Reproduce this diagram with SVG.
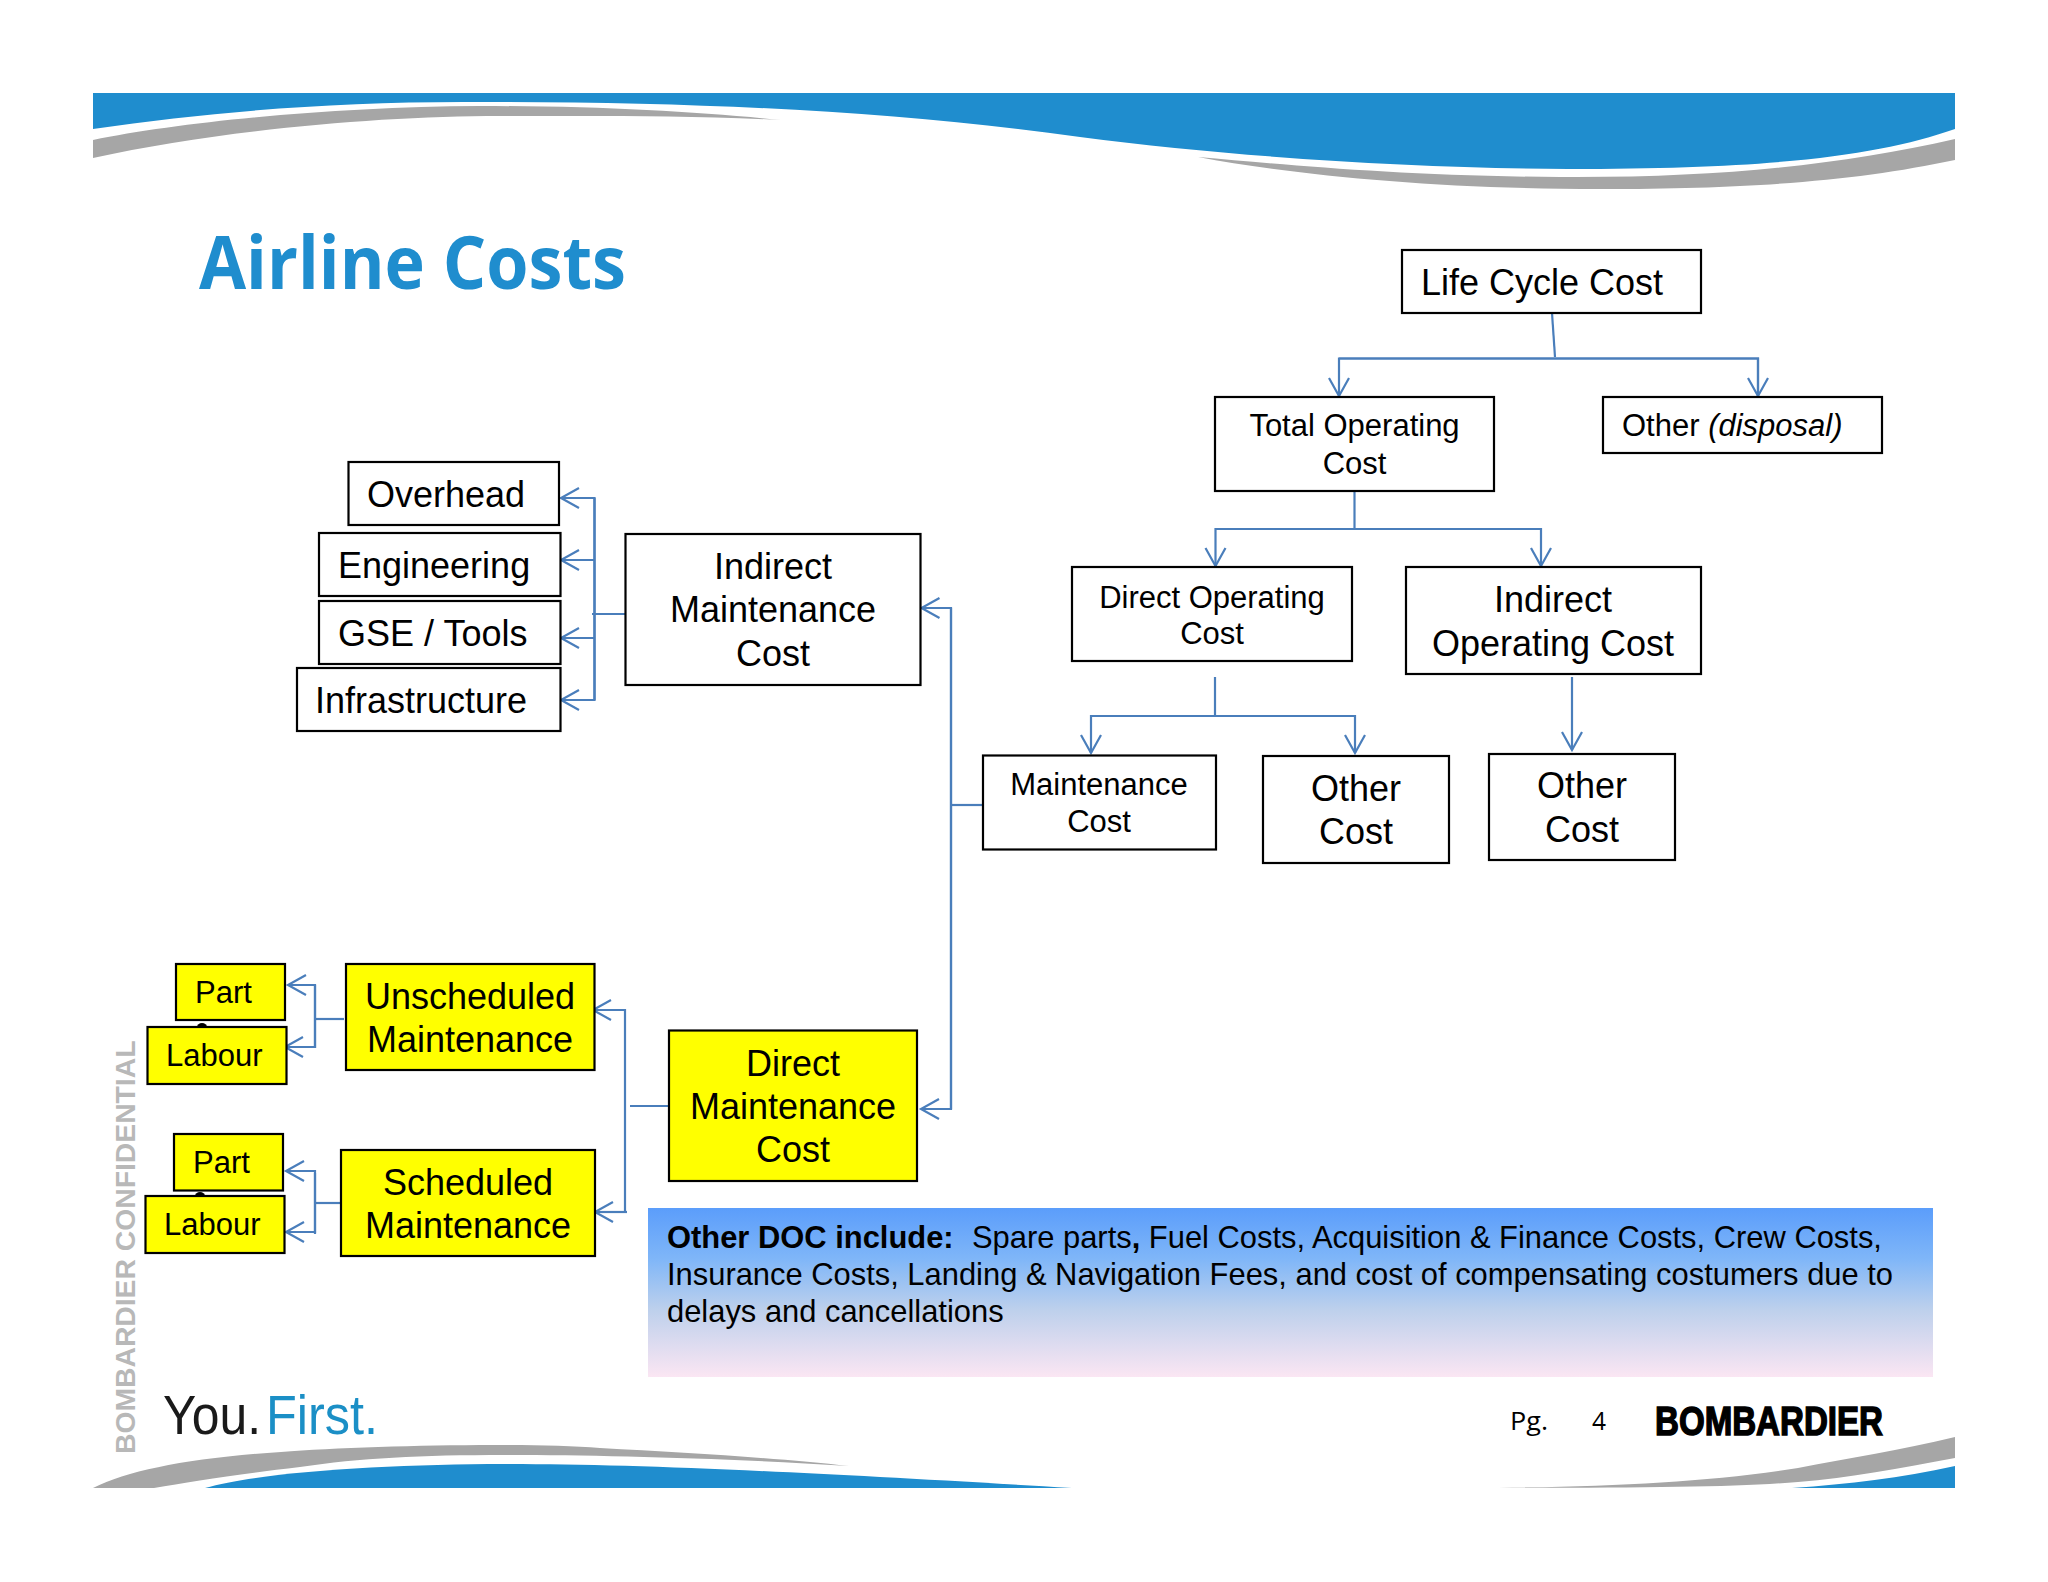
<svg xmlns="http://www.w3.org/2000/svg" width="2048" height="1582" viewBox="0 0 2048 1582">
<style>
text{font-family:"Liberation Sans",Arial,sans-serif;fill:#000}
.b{fill:#fff;stroke:#000;stroke-width:2.2}
.y{fill:#ff0;stroke:#000;stroke-width:2.2}
.t36{font-size:36px}.t31{font-size:31px}.t30{font-size:31px}
.m{text-anchor:middle}
.c{fill:none;stroke:#4a7ebb;stroke-width:2.2}
.a{marker-end:url(#arr)}
.blue{fill:#1f8dce}.gray{fill:#a6a6a6}
.note{font-size:30.9px}
</style>
<defs>
<marker id="arr" markerUnits="userSpaceOnUse" markerWidth="24" markerHeight="26" refX="21" refY="12" orient="auto" overflow="visible">
<path d="M3,2 L21,12 L3,22" fill="none" stroke="#4a7ebb" stroke-width="2.2"/>
</marker>
<linearGradient id="g" x1="0" y1="0" x2="0" y2="1">
<stop offset="0" stop-color="#5b9dfb"/><stop offset=".3" stop-color="#7fb6f8"/><stop offset=".6" stop-color="#bdd0ec"/><stop offset="1" stop-color="#fbe6f3"/>
</linearGradient>
</defs>
<rect width="2048" height="1582" fill="#fff"/>
<g id="band">
<path class="blue" d="M93,93 H1955 V129 C1880,155 1780,169 1568,169 C1420,168 1240,158 1080,137 C900,112 700,101 463,102 C330,102 210,112 93,129 Z"/>
<path class="gray" d="M93,140 C180,122 330,107 480,106 C600,106 700,112 781,120 C680,115 590,116 500,116 C380,116 220,130 93,158 Z"/>
<path class="gray" d="M1198,157 C1290,165 1400,176 1560,177 C1720,178 1840,165 1955,139 V160 C1860,180 1760,189 1600,189 C1440,189 1300,176 1198,157 Z"/>
<path class="gray" d="M93,1488 C130,1470 190,1458 281,1452 C360,1446 520,1442 600,1448 C690,1453 780,1458 849,1466 C720,1458 600,1455 505,1455 C420,1455 360,1458 300,1467 C240,1474 190,1482 154,1488 Z"/>
<path class="blue" d="M205,1488 C260,1472 390,1464 505,1464 C640,1464 800,1472 1072,1488 Z"/>
<path class="gray" d="M1499,1488 C1620,1486 1710,1482 1798,1468 C1850,1458 1900,1450 1955,1437 V1458 C1900,1468 1850,1478 1798,1482 C1740,1487 1650,1488 1499,1488 Z"/>
<path class="blue" d="M1792,1488 C1850,1484 1900,1478 1955,1466 V1488 Z"/>
</g>
<text id="title" x="199" y="289" font-size="73" font-weight="700" style="font-family:'Open Sans','Noto Sans',sans-serif;fill:#1f8dce" textLength="427" lengthAdjust="spacingAndGlyphs">Airline Costs</text>
<g id="note">
<rect x="648" y="1208" width="1285" height="169" fill="url(#g)"/>
<text class="note" x="667" y="1248"><tspan font-weight="700">Other DOC include:</tspan><tspan x="972">Spare parts</tspan><tspan font-weight="700">,</tspan> Fuel Costs, Acquisition &amp; Finance Costs, Crew Costs,</text>
<text class="note" x="667" y="1285">Insurance Costs, Landing &amp; Navigation Fees, and cost of compensating costumers due to</text>
<text class="note" x="667" y="1322">delays and cancellations</text>
</g>
<g id="connectors">
<path class="c" d="M1552,313 L1555,357"/>
<path class="c a" d="M1758,396 V358.500 H1339 V396"/>
<path class="c a" d="M1339,358.500 H1758 V396"/>
<path class="c" d="M1354.5,491 V529"/>
<path class="c a" d="M1541,529 H1215.5 V566"/>
<path class="c a" d="M1215.5,529 H1541 V566"/>
<path class="c" d="M1215,677 V716"/>
<path class="c a" d="M1355,716 H1091 V753"/>
<path class="c a" d="M1091,716 H1355 V753"/>
<path class="c a" d="M1572,677 V750"/>
<path class="c" d="M592,614 H628"/>
<path class="c a" d="M594.5,700 V498 H561"/>
<path class="c a" d="M594.5,560 H561"/>
<path class="c a" d="M594.5,638 H561"/>
<path class="c a" d="M594.5,498 V700 H561"/>
<path class="c a" d="M951,1109 V608 H921.5"/>
<path class="c a" d="M951,608 V1109 H921"/>
<path class="c" d="M951,805 H983"/>
<path class="c" d="M630,1106 H669"/>
<path class="c a" d="M625,1212 V1010 H593"/>
<path class="c a" d="M627,1212 H595"/>
<path class="c" d="M315,1019 H344"/>
<path class="c a" d="M315,1048 V985 H288"/>
<path class="c a" d="M315,985 V1047 H285"/>
<path class="c" d="M315,1203 H343"/>
<path class="c a" d="M315,1234 V1171 H286"/>
<path class="c a" d="M315,1173 V1232 H286"/>
</g>
<g id="life"><rect class="b" x="1402" y="250" width="299" height="63"/><text class="t36" x="1421" y="295">Life Cycle Cost</text></g>
<g id="total"><rect class="b" x="1215" y="397" width="279" height="94"/><text class="t31 m" x="1354.5" y="436">Total Operating</text><text class="t31 m" x="1354.5" y="474">Cost</text></g>
<g id="other-disposal"><rect class="b" x="1603" y="397" width="279" height="56"/><text class="t31" x="1622" y="436">Other <tspan font-style="italic">(disposal)</tspan></text></g>
<g id="direct-op"><rect class="b" x="1072" y="567" width="280" height="94"/><text class="t31 m" x="1212" y="608">Direct Operating</text><text class="t31 m" x="1212" y="644">Cost</text></g>
<g id="indirect-op"><rect class="b" x="1406" y="567" width="295" height="107"/><text class="t36 m" x="1553" y="612">Indirect</text><text class="t36 m" x="1553" y="656">Operating Cost</text></g>
<g id="maintenance"><rect class="b" x="983" y="755.5" width="233" height="94"/><text class="t31 m" x="1099" y="795">Maintenance</text><text class="t31 m" x="1099" y="832">Cost</text></g>
<g id="other-cost-1"><rect class="b" x="1263" y="756" width="186" height="107"/><text class="t36 m" x="1356" y="801">Other</text><text class="t36 m" x="1356" y="844">Cost</text></g>
<g id="other-cost-2"><rect class="b" x="1489" y="754" width="186" height="106"/><text class="t36 m" x="1582" y="798">Other</text><text class="t36 m" x="1582" y="842">Cost</text></g>
<g id="indirect-maint"><rect class="b" x="625.5" y="534" width="295" height="151"/><text class="t36 m" x="773" y="579">Indirect</text><text class="t36 m" x="773" y="622">Maintenance</text><text class="t36 m" x="773" y="666">Cost</text></g>
<g id="overhead"><rect class="b" x="348.500" y="462" width="210.500" height="63"/><text class="t36" x="367" y="507">Overhead</text></g>
<g id="engineering"><rect class="b" x="319" y="533" width="241.500" height="63"/><text class="t36" x="338" y="578">Engineering</text></g>
<g id="gse"><rect class="b" x="319" y="601" width="241.500" height="63"/><text class="t36" x="338" y="646">GSE / Tools</text></g>
<g id="infrastructure"><rect class="b" x="297" y="668" width="263.500" height="63"/><text class="t36" x="315" y="713">Infrastructure</text></g>
<g id="direct-maint"><rect class="y" x="669" y="1030.500" width="248" height="150.500"/><text class="t36 m" x="793" y="1076">Direct</text><text class="t36 m" x="793" y="1119">Maintenance</text><text class="t36 m" x="793" y="1162">Cost</text></g>
<g id="unscheduled"><rect class="y" x="346" y="964" width="248.500" height="106"/><text class="t36 m" x="470" y="1009">Unscheduled</text><text class="t36 m" x="470" y="1052">Maintenance</text></g>
<g id="scheduled"><rect class="y" x="341" y="1150" width="254" height="106"/><text class="t36 m" x="468" y="1195">Scheduled</text><text class="t36 m" x="468" y="1238">Maintenance</text></g>
<g id="part-1"><rect class="y" x="176" y="964" width="109" height="56"/><text class="t30" x="195" y="1003">Part</text></g>
<g id="part-2"><rect class="y" x="174" y="1134" width="109" height="56.500"/><text class="t30" x="193" y="1173">Part</text></g>
<ellipse cx="202" cy="1027" rx="5" ry="4"/><ellipse cx="200" cy="1196" rx="5" ry="4"/>
<g id="labour-1"><rect class="y" x="147.500" y="1027" width="139" height="57"/><text class="t30" x="166" y="1066">Labour</text></g>
<g id="labour-2"><rect class="y" x="145.500" y="1196" width="139" height="57"/><text class="t30" x="164" y="1235">Labour</text></g>
<text id="confidential" transform="translate(135,1454) rotate(-90)" font-size="28.300" font-weight="700" style="fill:#b8b8b8">BOMBARDIER CONFIDENTIAL</text>
<g id="footer">
<text x="163" y="1434" font-size="55" textLength="98" lengthAdjust="spacingAndGlyphs" style="fill:#1a1a1a">You.</text>
<text x="266" y="1434" font-size="55" textLength="112" lengthAdjust="spacingAndGlyphs" style="fill:#1b8fc6">First.</text>
<text x="1510" y="1430" font-size="26" textLength="38" lengthAdjust="spacingAndGlyphs" style="font-family:'Open Sans',sans-serif">Pg.</text>
<text x="1592" y="1430" font-size="26" textLength="14" lengthAdjust="spacingAndGlyphs" style="font-family:'Open Sans',sans-serif">4</text>
<text x="1655" y="1435" font-size="41" font-weight="700" stroke="#000" stroke-width="1.500" textLength="228" lengthAdjust="spacingAndGlyphs">BOMBARDIER</text>
</g>
</svg>
